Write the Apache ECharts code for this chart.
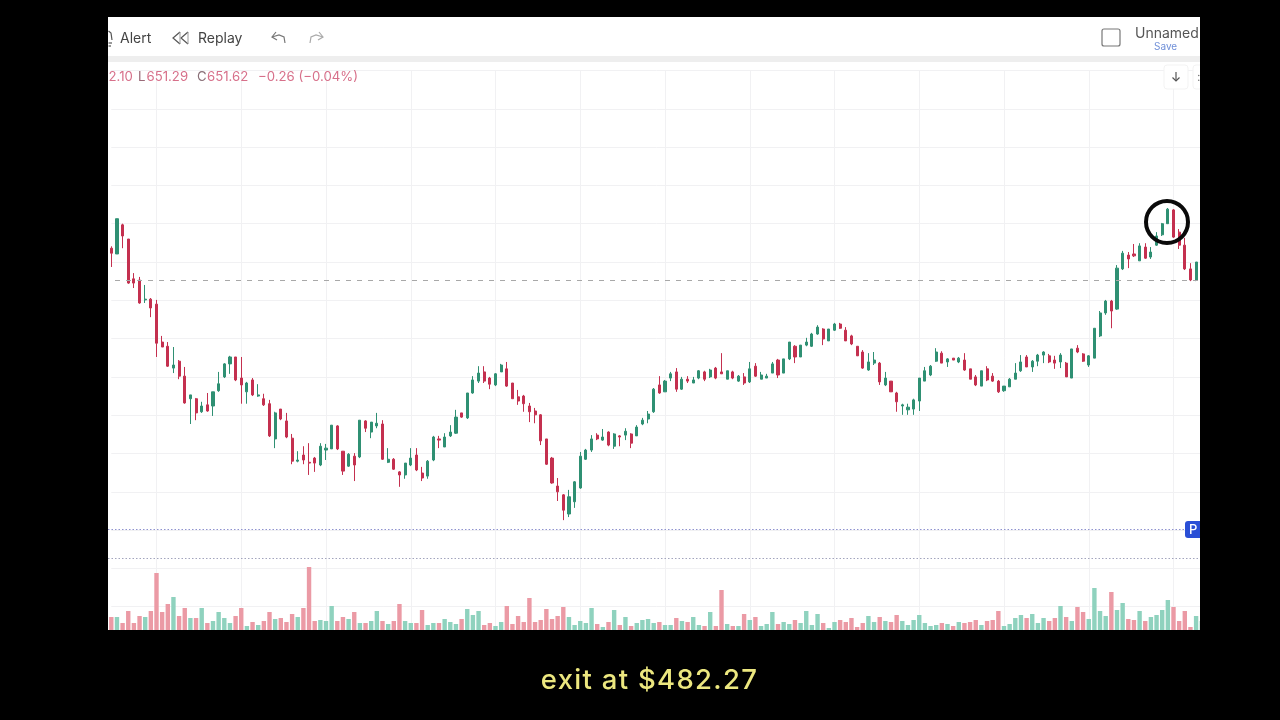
<!DOCTYPE html>
<html>
<head>
<meta charset="utf-8">
<title>Chart</title>
<script src="https://cdn.jsdelivr.net/npm/echarts@6/dist/echarts.min.js"></script>
<style>
  html, body { margin: 0; padding: 0; background: #000; overflow: hidden; }
  #chart { width: 1280px; height: 720px; filter: blur(0.45px); }
  #caption {
    position: absolute; left: 0; width: 1299px; top: 662px; text-align: center;
    font: 500 27.5px/34px Inter, "Noto Sans", sans-serif; letter-spacing: 1.3px;
    color: #ece77f; filter: blur(0.3px);
  }
</style>
</head>
<body>
<div id="chart"></div>
<div id="caption">exit at $482.27</div>
<script>
const opens = [
  652.36,652.21,652.97,652.60,651.56,651.53,651.01,651.03,650.90,649.91,
  649.80,649.23,649.41,649.02,648.43,648.43,648.09,648.27,648.24,648.64,
  649.00,649.34,649.52,648.97,648.61,648.92,648.50,648.43,648.30,647.38,
  648.16,647.85,647.40,646.80,646.96,646.77,646.88,646.70,647.09,647.12,
  647.72,647.06,646.67,646.93,646.91,647.85,647.56,647.72,647.77,646.77,
  646.85,646.52,646.44,646.70,646.96,646.49,646.41,646.83,647.38,647.17,
  647.46,647.53,648.06,647.93,648.58,648.89,649.13,648.97,648.79,649.13,
  649.21,648.84,648.48,648.50,648.24,648.11,648.01,647.38,646.88,646.15,
  645.92,645.42,645.74,646.10,646.85,647.09,647.48,647.35,647.56,647.19,
  647.46,647.48,647.51,647.46,647.77,647.90,648.09,648.79,648.61,648.97,
  649.13,648.68,648.94,648.84,648.97,649.13,649.00,649.23,649.13,648.94,
  649.13,648.89,649.00,648.87,649.28,648.94,648.97,649.10,649.44,649.10,
  649.47,649.80,649.52,649.83,649.80,650.12,650.25,649.94,650.22,650.38,
  650.22,650.07,649.80,649.65,649.18,649.36,649.36,648.79,648.89,648.58,
  648.24,648.14,648.16,648.37,648.89,649.05,649.41,649.62,649.39,649.49,
  649.39,649.44,649.21,649.00,648.76,649.21,649.02,648.89,648.64,648.74,
  648.94,649.16,649.52,649.26,649.41,649.57,649.55,649.44,649.39,649.36,
  648.97,649.75,649.60,649.31,649.49,650.07,650.67,650.98,650.77,651.82,
  652.18,652.21,652.03,652.39,652.13,652.44,652.71,653.00,653.36,652.78,
  652.44,651.82,651.53,651.27
]
const closes = [
  652.23,653.13,652.68,651.45,651.45,650.93,651.03,650.80,649.88,649.78,
  649.28,649.31,649.02,648.32,648.53,648.06,648.24,648.11,648.61,648.82,
  649.34,649.52,648.92,648.79,648.84,648.53,648.53,648.27,647.46,648.06,
  647.90,647.43,646.80,646.83,646.83,646.75,646.75,647.19,647.14,647.74,
  647.12,646.54,646.98,646.70,647.87,647.66,647.82,647.79,646.85,646.85,
  646.59,646.44,646.75,646.88,646.57,646.36,646.80,647.43,647.35,647.43,
  647.56,647.95,647.95,648.58,648.92,649.10,648.89,648.81,649.08,649.31,
  648.76,648.43,648.37,648.30,648.09,648.01,647.33,646.72,646.23,646.00,
  645.52,645.87,646.26,646.93,647.09,647.38,647.38,647.43,647.22,647.51,
  647.43,647.58,647.27,647.69,647.87,648.03,648.68,648.58,648.89,649.08,
  648.68,648.94,648.89,648.92,649.16,648.94,649.18,648.97,649.08,649.16,
  648.97,649.02,648.84,649.21,649.02,649.05,649.02,649.34,649.05,649.47,
  649.91,649.52,649.83,649.91,650.12,650.30,649.99,650.25,650.38,650.27,
  649.94,649.86,649.55,649.23,649.39,649.44,648.87,648.97,648.61,648.35,
  648.27,648.21,648.40,648.97,649.16,649.28,649.65,649.36,649.47,649.44,
  649.49,649.18,648.94,648.79,649.16,648.92,648.89,648.61,648.76,648.94,
  649.10,649.39,649.26,649.41,649.57,649.65,649.39,649.36,649.57,649.00,
  649.73,649.65,649.41,649.55,650.27,650.67,650.98,650.72,651.84,652.23,
  652.08,652.16,652.42,652.10,652.26,652.68,653.00,653.38,652.65,652.44,
  651.82,651.53,652.00,651.76
]
const lows = [
  651.87,652.21,652.36,651.43,651.32,650.91,650.93,650.56,649.52,649.78,
  649.26,649.10,648.94,648.30,647.77,647.87,648.06,648.09,647.98,648.61,
  648.97,649.08,648.89,648.30,648.30,648.50,648.48,648.24,647.43,647.14,
  647.87,647.40,646.72,646.77,646.72,646.44,646.52,646.67,646.83,647.12,
  647.09,646.44,646.65,646.28,646.88,647.56,647.40,647.66,646.83,646.75,
  646.57,646.13,646.34,646.67,646.54,646.28,646.34,646.80,647.14,647.17,
  647.43,647.51,647.93,647.90,648.56,648.84,648.84,648.68,648.76,649.13,
  648.74,648.43,648.27,648.09,647.82,647.79,647.22,646.70,646.21,645.76,
  645.26,645.34,645.58,646.08,646.83,647.04,647.35,647.33,647.19,647.12,
  647.19,647.35,647.14,647.46,647.74,647.79,648.06,648.56,648.61,648.89,
  648.61,648.66,648.84,648.84,648.94,648.89,648.97,648.94,649.08,648.94,
  648.94,648.87,648.79,648.84,649.00,648.94,648.97,649.10,648.97,649.10,
  649.44,649.36,649.52,649.80,649.78,650.10,649.83,649.94,650.20,650.25,
  649.94,649.83,649.55,649.21,649.16,649.31,648.79,648.76,648.61,648.09,
  648.01,648.01,648.01,648.11,648.89,649.02,649.39,649.36,649.26,649.44,
  649.36,649.16,648.94,648.76,648.76,648.89,648.87,648.58,648.61,648.74,
  648.94,649.13,649.26,649.13,649.28,649.36,649.36,649.21,649.23,649.00,
  648.97,649.62,649.39,649.26,649.49,650.04,650.62,650.27,650.75,651.79,
  651.84,652.13,652.03,652.08,652.08,652.42,652.68,653.00,652.63,652.34,
  651.79,651.50,651.50,651.27
]
const highs = [
  652.41,653.13,653.00,652.60,651.71,651.61,651.40,651.06,651.01,650.07,
  649.91,649.78,649.44,649.26,648.53,648.45,648.35,648.58,648.61,649.13,
  649.36,649.55,649.52,649.52,648.87,648.97,648.81,648.56,648.40,648.09,
  648.16,648.06,647.51,647.06,647.19,647.27,646.91,647.27,647.25,647.74,
  647.74,647.06,647.01,647.01,647.87,647.87,647.82,648.06,647.87,647.14,
  646.88,646.54,646.75,647.14,647.14,646.65,646.83,647.46,647.46,647.53,
  647.74,648.14,648.06,648.58,649.02,649.28,649.28,649.00,649.10,649.34,
  649.39,648.84,648.66,648.53,648.32,648.19,648.03,647.38,646.91,646.36,
  645.94,646.05,646.28,647.04,647.12,647.48,647.53,647.64,647.58,647.53,
  647.48,647.66,647.53,647.74,647.93,648.11,648.71,649.02,648.92,649.13,
  649.23,649.00,649.02,649.00,649.18,649.16,649.21,649.26,649.62,649.16,
  649.16,649.05,649.10,649.39,649.36,649.13,649.08,649.39,649.47,649.47,
  649.91,649.83,649.83,650.02,650.15,650.35,650.27,650.25,650.41,650.41,
  650.30,650.10,649.80,649.70,649.62,649.65,649.39,649.13,648.89,648.61,
  648.30,648.30,648.43,648.97,649.26,649.31,649.75,649.67,649.49,649.49,
  649.52,649.62,649.21,649.05,649.16,649.28,649.10,648.92,648.76,648.97,
  649.36,649.57,649.57,649.44,649.60,649.67,649.60,649.55,649.62,649.39,
  649.73,649.83,649.62,649.57,650.27,650.72,651.01,651.01,651.92,652.29,
  652.26,652.47,652.49,652.49,652.39,652.78,653.02,653.41,653.38,652.86,
  652.63,651.97,652.00,652.08
]
const volumes = [
  130,130,70,190,70,140,130,190,570,180,
  260,330,140,220,120,120,220,70,90,180,
  120,70,140,220,40,80,50,90,180,110,
  120,80,160,130,220,630,90,100,90,240,
  90,130,110,180,70,70,90,190,90,60,
  90,260,90,70,70,200,50,70,70,110,
  80,60,110,210,150,190,50,70,40,80,
  240,60,140,80,320,80,100,210,110,140,
  230,130,50,90,70,220,60,30,80,200,
  50,130,40,70,100,110,70,80,50,50,
  120,90,80,130,50,40,180,40,400,60,
  40,40,160,100,130,40,60,180,60,80,
  60,100,70,190,50,160,70,20,80,100,
  80,120,30,70,140,80,130,90,80,150,
  90,50,100,150,70,40,50,70,60,40,
  80,70,80,100,50,90,100,190,40,60,
  120,150,120,160,70,120,90,120,240,130,
  90,230,180,110,420,190,140,380,200,270,
  110,100,190,90,130,150,200,300,230,90,
  190,30,140,90
]
const priceLines = [651.53, 645.03, 644.27]
const times = opens.map((_, i) => 'T' + i)

const UP = '#2f9073'
const DOWN = '#c4304f'
const UP_VOL = '#8fd2be'
const DOWN_VOL = '#eb9aa5'
const LEFT = 111.3
const STEP = 5.65
const GRID_LINE = '#f1f1f3'

const candleData = opens.map((o, i) => [o, closes[i], lows[i], highs[i]])
const volumeData = volumes.map((v, i) => ({
  value: v,
  itemStyle: { color: closes[i] >= opens[i] ? UP_VOL : DOWN_VOL }
}))

function rect(x, y, width, height, fill, z) {
  return { type: 'rect', shape: { x, y, width, height }, style: { fill }, z, silent: true }
}
function label(x, y, text, fontSize, fill, extra) {
  return {
    type: 'text', x, y, z: 110, silent: true,
    style: Object.assign({
      text, fontSize, fill,
      fontFamily: 'Inter, "Noto Sans", sans-serif',
      verticalAlign: 'middle'
    }, extra)
  }
}
function line(points, stroke, width) {
  return { type: 'polyline', z: 110, silent: true, shape: { points }, style: { fill: 'none', stroke, lineWidth: width || 1.2 } }
}
function priceLine(value, fromX, color, dash) {
  return [
    { x: fromX, yAxis: value, lineStyle: { color, type: dash, width: 1 } },
    { x: 1200, yAxis: value }
  ]
}

const graphics = [
  // page + toolbar
  rect(108, 17, 1092, 613, '#fff', -1),
  rect(108, 56, 1092, 6, '#eeeeee', 1),
  // black surround, goes over the marks that run past the frame
  rect(0, 0, 1280, 17, '#000', 100),
  rect(0, 0, 108, 720, '#000', 100),
  rect(1200, 0, 80, 720, '#000', 100),
  rect(0, 630, 1280, 90, '#000', 100),
  rect(108, 17, 1092, 39, '#fff', 99),
  // toolbar
  line([[108.5, 31], [111, 33], [112, 40]], '#555'),
  line([[108.5, 43], [112, 43]], '#555'),
  line([[108.5, 46], [111, 46]], '#555'),
  label(120, 39, 'Alert', 14, '#444'),
  line([[180, 32], [173, 38], [180, 44]], '#555'),
  line([[188, 32], [181, 38], [188, 44]], '#555'),
  line([[180, 32], [180, 44]], '#999', 1),
  line([[188, 32], [188, 44]], '#999', 1),
  label(198, 39, 'Replay', 14, '#444'),
  line([[276, 32], [272, 37], [277, 40]], '#777'),
  line([[272, 37], [279, 35], [284, 37], [285, 43]], '#777'),
  line([[319, 32], [323, 37], [318, 40]], '#aaa'),
  line([[323, 37], [316, 35], [311, 37], [310, 43]], '#aaa'),
  { type: 'rect', z: 110, silent: true, shape: { x: 1102, y: 29, width: 18, height: 17, r: 2 }, style: { fill: '#fff', stroke: '#777', lineWidth: 1.2 } },
  label(1135, 34, 'Unnamed', 14, '#555'),
  label(1154, 47, 'Save', 10, '#6f8fd8'),
  // legend row
  label(108.5, 77, '2.10', 13.2, '#d7708a'),
  label(138, 77, 'L', 13.2, '#9a6a78'),
  label(146.5, 77, '651.29', 13.2, '#d7708a'),
  label(197, 77, 'C', 13.2, '#8a7078'),
  label(207, 77, '651.62', 13.2, '#d7708a'),
  label(258, 77, '\u22120.26 (\u22120.04%)', 13.2, '#d7708a'),
  // scroll buttons
  { type: 'rect', z: 99, silent: true, shape: { x: 1164, y: 65, width: 24, height: 24, r: 3 }, style: { fill: '#fff', stroke: '#f3f3f3', lineWidth: 1 } },
  line([[1176, 72], [1176, 81]], '#555'),
  line([[1172.5, 77.5], [1176, 81], [1179.5, 77.5]], '#555'),
  { type: 'rect', z: 99, silent: true, shape: { x: 1193, y: 65, width: 24, height: 24, r: 3 }, style: { fill: '#fff', stroke: '#f3f3f3', lineWidth: 1 } },
  label(1197, 77, ':', 12, '#777'),
  // price tag on the right edge
  { type: 'rect', z: 99, silent: true, shape: { x: 1185, y: 521, width: 24, height: 17, r: 3 }, style: { fill: '#2a4fd6' } },
  label(1189, 530, 'P', 13, '#fff', { fontWeight: 500 }),
  // hand drawn marker
  { type: 'circle', z: 98, silent: true, shape: { cx: 1167, cy: 222, r: 21 }, style: { fill: 'none', stroke: '#0a0a0a', lineWidth: 4 } }
]

const myChart = echarts.init(document.getElementById('chart'), null, { renderer: 'canvas' })
const option = {
  animation: false,
  backgroundColor: '#000',
  textStyle: { fontFamily: 'Inter' },
  grid: [
    // one dollar is 38.3px, the frame cuts the scale off at the bottom
    { left: LEFT, top: 70.5, width: STEP * (opens.length - 1), height: 574.5 },
    { left: LEFT, top: 530, width: STEP * (opens.length - 1), height: 100 }
  ],
  xAxis: [
    {
      type: 'category', gridIndex: 0, data: times, boundaryGap: false,
      axisLine: { show: false }, axisTick: { show: false }, axisLabel: { show: false },
      splitLine: { show: true, interval: i => (i - 8) % 15 === 0, lineStyle: { color: GRID_LINE, width: 1 } }
    },
    {
      type: 'category', gridIndex: 1, data: times, boundaryGap: false,
      axisLine: { show: false }, axisTick: { show: false }, axisLabel: { show: false },
      splitLine: { show: false }
    }
  ],
  yAxis: [
    {
      type: 'value', gridIndex: 0, min: 642, max: 657, interval: 1, position: 'right',
      axisLine: { show: false }, axisTick: { show: false }, axisLabel: { show: false },
      splitLine: { show: true, lineStyle: { color: GRID_LINE, width: 1 } }
    },
    {
      type: 'value', gridIndex: 1, min: 0, max: 1000,
      axisLine: { show: false }, axisTick: { show: false }, axisLabel: { show: false },
      splitLine: { show: false }
    }
  ],
  series: [
    {
      type: 'bar', name: 'Volume', xAxisIndex: 1, yAxisIndex: 1,
      data: volumeData, barWidth: 4.4, clip: false, z: 2
    },
    {
      type: 'candlestick', name: 'Price', xAxisIndex: 0, yAxisIndex: 0,
      data: candleData, barWidth: 2.6, clip: false, z: 3,
      itemStyle: { color: UP, color0: DOWN, borderColor: UP, borderColor0: DOWN, borderWidth: 1 },
      markLine: {
        silent: true, symbol: 'none', label: { show: false }, animation: false,
        data: [
          priceLine(priceLines[0], 115, '#a8a8a8', [5, 6]),
          priceLine(priceLines[1], 108, '#8f92cf', [1.5, 2]),
          priceLine(priceLines[2], 108, '#a2a4bd', [1.5, 2])
        ]
      }
    }
  ],
  graphic: { elements: graphics }
}
myChart.setOption(option)
</script>
</body>
</html>
